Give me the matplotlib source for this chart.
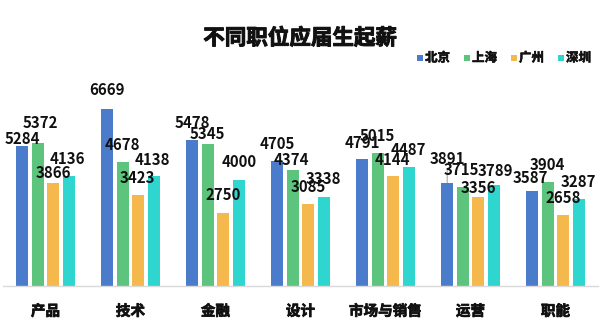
import matplotlib
matplotlib.use("Agg")
import matplotlib.pyplot as plt
import matplotlib.patheffects as pe
from matplotlib.patches import Rectangle
import numpy as np

plt.rcParams['font.family'] = ['Noto Sans CJK SC', 'DejaVu Sans']

# Starting salaries by job category and city
categories = ['产品', '技术', '金融', '设计', '市场与销售', '运营', '职能']
cities = ['北京', '上海', '广州', '深圳']
beijing = [5284, 6669, 5478, 4705, 4791, 3891, 3587]
shanghai = [5372, 4678, 5345, 4374, 5015, 3715, 3904]
guangzhou = [3866, 3423, 2750, 3085, 4144, 3356, 2658]
shenzhen = [4136, 4138, 4000, 3338, 4487, 3789, 3287]
series = [beijing, shanghai, guangzhou, shenzhen]
colors = ['#4A7CCB', '#5CC47C', '#F5B84C', '#2ED6CF']

# Hand-tuned label nudges (pixels: dx right, dy up from the bar top)
label_nudge = [
    [(0, 7), (0, 19), (0, 17), (0, 17), (0, 16), (0, 24), (-1.5, 13)],
    [(3, 20), (0, 17), (0, 9.5), (-1, 10), (0, 17), (-1, 17), (0, 17.7)],
    [(0, 10.7), (-0.5, 17.5), (0, 18), (0, 16.5), (-1, 16), (0, 8.5), (0, 17.4)],
    [(-1, 17), (-1, 16), (0, 17.6), (0, 18), (0, 17), (2, 14.5), (0, 17)],
]

# Slight outline to thicken the heavy headings
heavy = [pe.withStroke(linewidth=0.7, foreground='#111111')]

W, H, DPI = 600, 330, 100
fig = plt.figure(figsize=(W / DPI, H / DPI), dpi=DPI)
fig.patch.set_facecolor('white')

ax_bottom_px, ax_top_px = 286, 80
ax = fig.add_axes([3 / W, (H - ax_bottom_px) / H, 595 / W, (ax_bottom_px - ax_top_px) / H])

x = np.arange(len(categories))
pitch = 0.183
width = 0.141
px2pt = 72 / DPI

for i, (vals, col) in enumerate(zip(series, colors)):
    xs = x + (i - 1.5) * pitch
    ax.bar(xs, vals, width=width, color=col, zorder=2)
    for j, (xx, v) in enumerate(zip(xs, vals)):
        dx, dy = label_nudge[i][j]
        kw = {}
        if i == 0 and j == 5:
            kw['arrowprops'] = dict(arrowstyle='-', color='#888888', lw=0.6,
                                    shrinkA=0, shrinkB=0)
        ax.annotate(str(v), xy=(xx, v), xytext=(dx * px2pt, dy * px2pt),
                    textcoords='offset points', ha='center', va='center',
                    fontsize=10.8, fontweight='bold', color='#111111',
                    zorder=5, **kw)

ax.set_xlim(-0.5, len(categories) - 0.5)
ax.set_ylim(0, 7750)
ax.set_yticks([])
ax.set_xticks(x)
ax.set_xticklabels(categories, fontsize=10.5, fontweight='bold', color='#111111')
for t in ax.get_xticklabels():
    t.set_path_effects([pe.withStroke(linewidth=0.5, foreground='#111111')])
ax.tick_params(axis='x', length=0, pad=12)
for s in ['top', 'left', 'right']:
    ax.spines[s].set_visible(False)
ax.spines['bottom'].set_color('#D9D9D9')
ax.spines['bottom'].set_linewidth(1.0)

fig.text(300 / W, 1 - 38 / H, '不同职位应届生起薪', ha='center', va='center',
         fontsize=15.5, fontweight='bold', color='#111111', path_effects=heavy)

# Legend row
leg_y = 58
for k, (name, col) in enumerate(zip(cities, colors)):
    x0 = 417 + k * 47
    fig.patches.append(Rectangle((x0 / W, 1 - (leg_y + 3) / H), 6 / W, 6 / H,
                                 transform=fig.transFigure, facecolor=col,
                                 edgecolor='none'))
    fig.text((x0 + 8) / W, 1 - leg_y / H, name, ha='left', va='center',
             fontsize=9, fontweight='bold', color='#111111',
             path_effects=[pe.withStroke(linewidth=0.4, foreground='#111111')])

fig.savefig('out.png', dpi=DPI, facecolor='white')
